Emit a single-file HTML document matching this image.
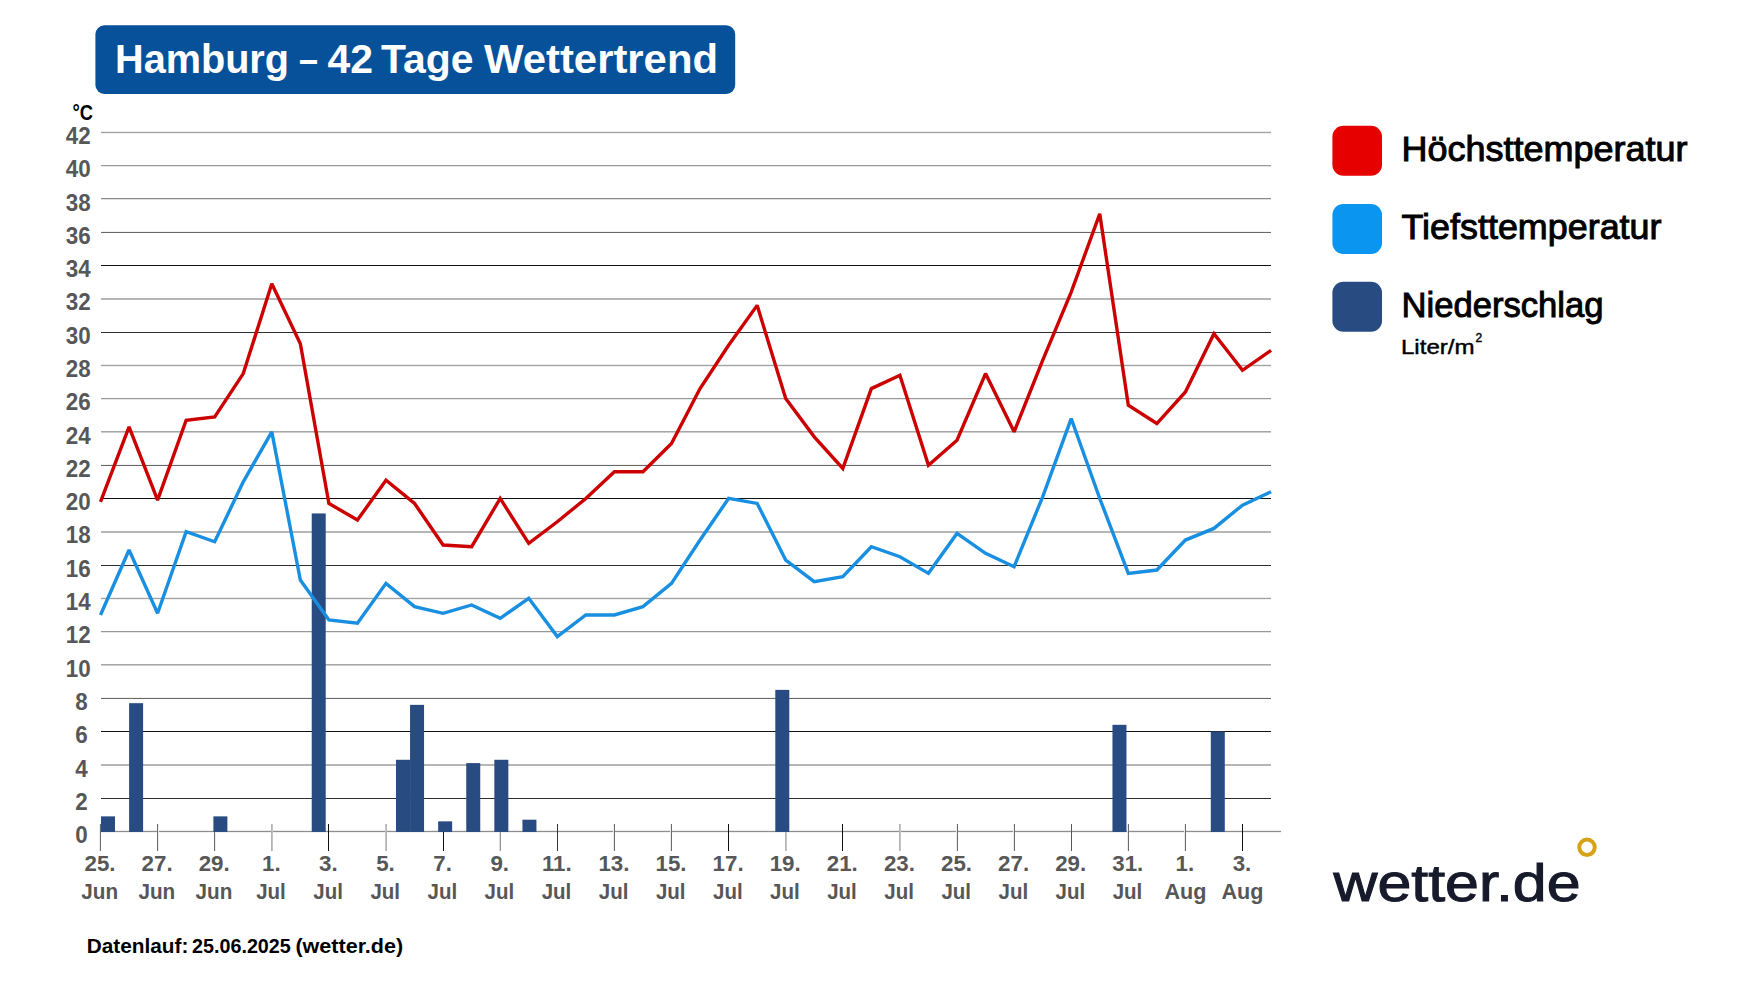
<!DOCTYPE html>
<html lang="de">
<head>
<meta charset="utf-8">
<title>Hamburg – 42 Tage Wettertrend</title>
<style>
html,body{margin:0;padding:0;background:#fff;}
body{width:1756px;height:987px;overflow:hidden;}
svg{display:block;}
.ax{font-family:"Liberation Sans",sans-serif;font-weight:bold;font-size:23.2px;fill:#575757;}
.xs{font-size:22.3px;}
.lg{font-family:"Liberation Sans",sans-serif;font-size:35px;fill:#000;stroke:#000;stroke-width:0.95px;}
</style>
</head>
<body>
<svg width="1756" height="987" viewBox="0 0 1756 987">
<rect width="1756" height="987" fill="#ffffff"/>
<rect x="95.4" y="25.3" width="639.8" height="68.6" rx="9" ry="9" fill="#07519b"/>
<text y="73.4" font-family="'Liberation Sans',sans-serif" font-weight="bold" font-size="40" fill="#ffffff"><tspan x="115" textLength="174" lengthAdjust="spacingAndGlyphs">Hamburg</tspan> <tspan x="299" textLength="19" lengthAdjust="spacingAndGlyphs">–</tspan> <tspan x="327.5" textLength="45.5" lengthAdjust="spacingAndGlyphs">42</tspan> <tspan x="381" textLength="92.5" lengthAdjust="spacingAndGlyphs">Tage</tspan> <tspan x="484" textLength="234" lengthAdjust="spacingAndGlyphs">Wettertrend</tspan></text>
<text x="72.5" y="119.7" font-family="'Liberation Sans',sans-serif" font-weight="bold" font-size="22.7" fill="#000" textLength="20.5" lengthAdjust="spacingAndGlyphs">°C</text>
<g shape-rendering="crispEdges">
<rect x="100.5" y="831" width="1180.0" height="1" fill="#8e8e8e"/>
<rect x="100.5" y="830" width="1180.0" height="1" fill="#ededed"/>
<rect x="100.5" y="832" width="1180.0" height="1" fill="#f0f0f0"/>
<rect x="100.5" y="798" width="1170.5" height="1" fill="#2e2e2e"/>
<rect x="100.5" y="764" width="1170.5" height="1" fill="#b6b6b6"/>
<rect x="100.5" y="765" width="1170.5" height="1" fill="#b6b6b6"/>
<rect x="100.5" y="731" width="1170.5" height="1" fill="#111111"/>
<rect x="100.5" y="698" width="1170.5" height="1" fill="#686868"/>
<rect x="100.5" y="697" width="1170.5" height="1" fill="#f2f2f2"/>
<rect x="100.5" y="664" width="1170.5" height="1" fill="#a6a6a6"/>
<rect x="100.5" y="665" width="1170.5" height="1" fill="#cccccc"/>
<rect x="100.5" y="631" width="1170.5" height="1" fill="#989898"/>
<rect x="100.5" y="632" width="1170.5" height="1" fill="#e6e6e6"/>
<rect x="100.5" y="598" width="1170.5" height="1" fill="#a2a2a2"/>
<rect x="100.5" y="597" width="1170.5" height="1" fill="#ededed"/>
<rect x="100.5" y="599" width="1170.5" height="1" fill="#f0f0f0"/>
<rect x="100.5" y="565" width="1170.5" height="1" fill="#2e2e2e"/>
<rect x="100.5" y="531" width="1170.5" height="1" fill="#b6b6b6"/>
<rect x="100.5" y="532" width="1170.5" height="1" fill="#b6b6b6"/>
<rect x="100.5" y="498" width="1170.5" height="1" fill="#111111"/>
<rect x="100.5" y="465" width="1170.5" height="1" fill="#686868"/>
<rect x="100.5" y="464" width="1170.5" height="1" fill="#f2f2f2"/>
<rect x="100.5" y="431" width="1170.5" height="1" fill="#a6a6a6"/>
<rect x="100.5" y="432" width="1170.5" height="1" fill="#cccccc"/>
<rect x="100.5" y="398" width="1170.5" height="1" fill="#989898"/>
<rect x="100.5" y="399" width="1170.5" height="1" fill="#e6e6e6"/>
<rect x="100.5" y="365" width="1170.5" height="1" fill="#a2a2a2"/>
<rect x="100.5" y="364" width="1170.5" height="1" fill="#ededed"/>
<rect x="100.5" y="366" width="1170.5" height="1" fill="#f0f0f0"/>
<rect x="100.5" y="332" width="1170.5" height="1" fill="#2e2e2e"/>
<rect x="100.5" y="298" width="1170.5" height="1" fill="#b6b6b6"/>
<rect x="100.5" y="299" width="1170.5" height="1" fill="#b6b6b6"/>
<rect x="100.5" y="265" width="1170.5" height="1" fill="#111111"/>
<rect x="100.5" y="232" width="1170.5" height="1" fill="#686868"/>
<rect x="100.5" y="231" width="1170.5" height="1" fill="#f2f2f2"/>
<rect x="100.5" y="198" width="1170.5" height="1" fill="#8a8a8a"/>
<rect x="100.5" y="199" width="1170.5" height="1" fill="#e0e0e0"/>
<rect x="100.5" y="165" width="1170.5" height="1" fill="#989898"/>
<rect x="100.5" y="166" width="1170.5" height="1" fill="#e6e6e6"/>
<rect x="100.5" y="132" width="1170.5" height="1" fill="#a2a2a2"/>
<rect x="100.5" y="131" width="1170.5" height="1" fill="#ededed"/>
<rect x="100.5" y="133" width="1170.5" height="1" fill="#f0f0f0"/>
</g>
<text class="ax" transform="translate(87.7,843.1) scale(0.965,1)" text-anchor="end">0</text>
<text class="ax" transform="translate(87.7,809.8) scale(0.965,1)" text-anchor="end">2</text>
<text class="ax" transform="translate(87.7,776.5) scale(0.965,1)" text-anchor="end">4</text>
<text class="ax" transform="translate(87.7,743.2) scale(0.965,1)" text-anchor="end">6</text>
<text class="ax" transform="translate(87.7,709.9) scale(0.965,1)" text-anchor="end">8</text>
<text class="ax" transform="translate(90.6,676.6) scale(0.965,1)" text-anchor="end">10</text>
<text class="ax" transform="translate(90.6,643.3) scale(0.965,1)" text-anchor="end">12</text>
<text class="ax" transform="translate(90.6,610.0) scale(0.965,1)" text-anchor="end">14</text>
<text class="ax" transform="translate(90.6,576.7) scale(0.965,1)" text-anchor="end">16</text>
<text class="ax" transform="translate(90.6,543.4) scale(0.965,1)" text-anchor="end">18</text>
<text class="ax" transform="translate(90.6,510.2) scale(0.965,1)" text-anchor="end">20</text>
<text class="ax" transform="translate(90.6,476.9) scale(0.965,1)" text-anchor="end">22</text>
<text class="ax" transform="translate(90.6,443.6) scale(0.965,1)" text-anchor="end">24</text>
<text class="ax" transform="translate(90.6,410.3) scale(0.965,1)" text-anchor="end">26</text>
<text class="ax" transform="translate(90.6,377.0) scale(0.965,1)" text-anchor="end">28</text>
<text class="ax" transform="translate(90.6,343.7) scale(0.965,1)" text-anchor="end">30</text>
<text class="ax" transform="translate(90.6,310.4) scale(0.965,1)" text-anchor="end">32</text>
<text class="ax" transform="translate(90.6,277.1) scale(0.965,1)" text-anchor="end">34</text>
<text class="ax" transform="translate(90.6,243.8) scale(0.965,1)" text-anchor="end">36</text>
<text class="ax" transform="translate(90.6,210.5) scale(0.965,1)" text-anchor="end">38</text>
<text class="ax" transform="translate(90.6,177.3) scale(0.965,1)" text-anchor="end">40</text>
<text class="ax" transform="translate(90.6,144.0) scale(0.965,1)" text-anchor="end">42</text>
<g shape-rendering="crispEdges">
<rect x="100" y="824" width="1" height="27" fill="#6c6c6c"/>
<rect x="99" y="824" width="1" height="27" fill="#ececec"/>
<rect x="157" y="824" width="1" height="27" fill="#6c6c6c"/>
<rect x="158" y="824" width="1" height="27" fill="#ececec"/>
<rect x="214" y="824" width="1" height="27" fill="#6c6c6c"/>
<rect x="215" y="824" width="1" height="27" fill="#ececec"/>
<rect x="271" y="824" width="1" height="27" fill="#b4b4b4"/>
<rect x="272" y="824" width="1" height="27" fill="#c4c4c4"/>
<rect x="328" y="824" width="1" height="27" fill="#111111"/>
<rect x="386" y="824" width="1" height="27" fill="#b4b4b4"/>
<rect x="385" y="824" width="1" height="27" fill="#c4c4c4"/>
<rect x="443" y="824" width="1" height="27" fill="#111111"/>
<rect x="500" y="824" width="1" height="27" fill="#949494"/>
<rect x="499" y="824" width="1" height="27" fill="#dcdcdc"/>
<rect x="557" y="824" width="1" height="27" fill="#363636"/>
<rect x="614" y="824" width="1" height="27" fill="#6c6c6c"/>
<rect x="613" y="824" width="1" height="27" fill="#ececec"/>
<rect x="671" y="824" width="1" height="27" fill="#6c6c6c"/>
<rect x="670" y="824" width="1" height="27" fill="#ececec"/>
<rect x="728" y="824" width="1" height="27" fill="#111111"/>
<rect x="785" y="824" width="1" height="27" fill="#b4b4b4"/>
<rect x="786" y="824" width="1" height="27" fill="#c4c4c4"/>
<rect x="842" y="824" width="1" height="27" fill="#111111"/>
<rect x="899" y="824" width="1" height="27" fill="#b4b4b4"/>
<rect x="900" y="824" width="1" height="27" fill="#c4c4c4"/>
<rect x="957" y="824" width="1" height="27" fill="#6c6c6c"/>
<rect x="956" y="824" width="1" height="27" fill="#ececec"/>
<rect x="1014" y="824" width="1" height="27" fill="#6c6c6c"/>
<rect x="1013" y="824" width="1" height="27" fill="#ececec"/>
<rect x="1071" y="824" width="1" height="27" fill="#585858"/>
<rect x="1128" y="824" width="1" height="27" fill="#6c6c6c"/>
<rect x="1127" y="824" width="1" height="27" fill="#ececec"/>
<rect x="1185" y="824" width="1" height="27" fill="#6c6c6c"/>
<rect x="1184" y="824" width="1" height="27" fill="#ececec"/>
<rect x="1242" y="824" width="1" height="27" fill="#111111"/>
</g>
<g fill="#284b82">
<rect x="101.00" y="816.37" width="14" height="15.58"/>
<rect x="129.10" y="703.18" width="14" height="128.77"/>
<rect x="213.38" y="816.37" width="14" height="15.58"/>
<rect x="311.72" y="513.43" width="14" height="318.52"/>
<rect x="396.01" y="759.78" width="14" height="72.17"/>
<rect x="410.06" y="704.85" width="14" height="127.10"/>
<rect x="438.15" y="821.36" width="14" height="10.59"/>
<rect x="466.25" y="763.11" width="14" height="68.84"/>
<rect x="494.34" y="759.78" width="14" height="72.17"/>
<rect x="522.44" y="819.70" width="14" height="12.25"/>
<rect x="775.30" y="689.87" width="14" height="142.08"/>
<rect x="1112.46" y="724.82" width="14" height="107.13"/>
<rect x="1210.79" y="731.48" width="14" height="100.47"/>
</g>
<polyline fill="none" stroke="#188fe1" stroke-width="3.4" stroke-linejoin="miter" stroke-miterlimit="2.2" points="100.50,614.97 129.05,550.05 157.60,613.30 186.15,531.74 214.70,541.73 243.25,481.81 271.80,431.87 300.35,580.01 328.90,619.96 357.45,623.29 386.00,583.34 414.55,606.64 443.10,613.30 471.65,604.98 500.20,618.29 528.75,598.32 557.30,636.60 585.85,614.97 614.40,614.97 642.95,606.64 671.50,583.34 700.05,540.06 728.60,498.45 757.15,503.44 785.70,560.04 814.25,581.68 842.80,576.68 871.35,546.72 899.90,556.71 928.45,573.35 957.00,533.40 985.55,553.38 1014.10,566.69 1042.65,496.79 1071.20,418.55 1099.75,498.45 1128.30,573.35 1156.85,570.02 1185.40,540.06 1213.95,528.41 1242.50,505.11 1271.05,491.79"/>
<polyline fill="none" stroke="#cc0000" stroke-width="3.4" stroke-linejoin="miter" stroke-miterlimit="2.2" points="100.50,501.78 129.05,426.88 157.60,500.11 186.15,420.22 214.70,416.89 243.25,373.61 271.80,283.73 300.35,343.65 328.90,503.44 357.45,520.09 386.00,480.14 414.55,503.44 443.10,545.06 471.65,546.72 500.20,498.45 528.75,543.39 557.30,521.75 585.85,498.45 614.40,471.82 642.95,471.82 671.50,443.52 700.05,388.59 728.60,345.32 757.15,305.37 785.70,398.58 814.25,436.86 842.80,468.49 871.35,388.59 899.90,375.28 928.45,465.16 957.00,440.19 985.55,373.61 1014.10,431.87 1042.65,360.30 1071.20,292.05 1099.75,213.82 1128.30,405.24 1156.85,423.55 1185.40,391.92 1213.95,333.66 1242.50,370.28 1271.05,350.31"/>
<text class="ax xs" x="100.0" y="871" text-anchor="middle">25.</text>
<text class="ax xs" x="99.7" y="899.4" text-anchor="middle" textLength="36.8" lengthAdjust="spacingAndGlyphs">Jun</text>
<text class="ax xs" x="157.1" y="871" text-anchor="middle">27.</text>
<text class="ax xs" x="156.8" y="899.4" text-anchor="middle" textLength="36.8" lengthAdjust="spacingAndGlyphs">Jun</text>
<text class="ax xs" x="214.2" y="871" text-anchor="middle">29.</text>
<text class="ax xs" x="213.9" y="899.4" text-anchor="middle" textLength="36.8" lengthAdjust="spacingAndGlyphs">Jun</text>
<text class="ax xs" x="271.3" y="871" text-anchor="middle">1.</text>
<text class="ax xs" x="271.0" y="899.4" text-anchor="middle" textLength="29.6" lengthAdjust="spacingAndGlyphs">Jul</text>
<text class="ax xs" x="328.4" y="871" text-anchor="middle">3.</text>
<text class="ax xs" x="328.1" y="899.4" text-anchor="middle" textLength="29.6" lengthAdjust="spacingAndGlyphs">Jul</text>
<text class="ax xs" x="385.5" y="871" text-anchor="middle">5.</text>
<text class="ax xs" x="385.2" y="899.4" text-anchor="middle" textLength="29.6" lengthAdjust="spacingAndGlyphs">Jul</text>
<text class="ax xs" x="442.6" y="871" text-anchor="middle">7.</text>
<text class="ax xs" x="442.3" y="899.4" text-anchor="middle" textLength="29.6" lengthAdjust="spacingAndGlyphs">Jul</text>
<text class="ax xs" x="499.7" y="871" text-anchor="middle">9.</text>
<text class="ax xs" x="499.4" y="899.4" text-anchor="middle" textLength="29.6" lengthAdjust="spacingAndGlyphs">Jul</text>
<text class="ax xs" x="556.8" y="871" text-anchor="middle">11.</text>
<text class="ax xs" x="556.5" y="899.4" text-anchor="middle" textLength="29.6" lengthAdjust="spacingAndGlyphs">Jul</text>
<text class="ax xs" x="613.9" y="871" text-anchor="middle">13.</text>
<text class="ax xs" x="613.6" y="899.4" text-anchor="middle" textLength="29.6" lengthAdjust="spacingAndGlyphs">Jul</text>
<text class="ax xs" x="671.0" y="871" text-anchor="middle">15.</text>
<text class="ax xs" x="670.7" y="899.4" text-anchor="middle" textLength="29.6" lengthAdjust="spacingAndGlyphs">Jul</text>
<text class="ax xs" x="728.1" y="871" text-anchor="middle">17.</text>
<text class="ax xs" x="727.8" y="899.4" text-anchor="middle" textLength="29.6" lengthAdjust="spacingAndGlyphs">Jul</text>
<text class="ax xs" x="785.2" y="871" text-anchor="middle">19.</text>
<text class="ax xs" x="784.9" y="899.4" text-anchor="middle" textLength="29.6" lengthAdjust="spacingAndGlyphs">Jul</text>
<text class="ax xs" x="842.3" y="871" text-anchor="middle">21.</text>
<text class="ax xs" x="842.0" y="899.4" text-anchor="middle" textLength="29.6" lengthAdjust="spacingAndGlyphs">Jul</text>
<text class="ax xs" x="899.4" y="871" text-anchor="middle">23.</text>
<text class="ax xs" x="899.1" y="899.4" text-anchor="middle" textLength="29.6" lengthAdjust="spacingAndGlyphs">Jul</text>
<text class="ax xs" x="956.5" y="871" text-anchor="middle">25.</text>
<text class="ax xs" x="956.2" y="899.4" text-anchor="middle" textLength="29.6" lengthAdjust="spacingAndGlyphs">Jul</text>
<text class="ax xs" x="1013.6" y="871" text-anchor="middle">27.</text>
<text class="ax xs" x="1013.3" y="899.4" text-anchor="middle" textLength="29.6" lengthAdjust="spacingAndGlyphs">Jul</text>
<text class="ax xs" x="1070.7" y="871" text-anchor="middle">29.</text>
<text class="ax xs" x="1070.4" y="899.4" text-anchor="middle" textLength="29.6" lengthAdjust="spacingAndGlyphs">Jul</text>
<text class="ax xs" x="1127.8" y="871" text-anchor="middle">31.</text>
<text class="ax xs" x="1127.5" y="899.4" text-anchor="middle" textLength="29.6" lengthAdjust="spacingAndGlyphs">Jul</text>
<text class="ax xs" x="1184.9" y="871" text-anchor="middle">1.</text>
<text class="ax xs" x="1185.4" y="899.4" text-anchor="middle" textLength="42" lengthAdjust="spacingAndGlyphs">Aug</text>
<text class="ax xs" x="1242.0" y="871" text-anchor="middle">3.</text>
<text class="ax xs" x="1242.5" y="899.4" text-anchor="middle" textLength="42" lengthAdjust="spacingAndGlyphs">Aug</text>
<rect x="1332.4" y="125.8" width="49.6" height="50" rx="11" ry="11" fill="#e60000"/>
<rect x="1332.4" y="204" width="49.6" height="50" rx="11" ry="11" fill="#0a96f0"/>
<rect x="1332.4" y="281.8" width="49.6" height="50" rx="11" ry="11" fill="#284b82"/>
<text class="lg" x="1401.5" y="161.4" textLength="286" lengthAdjust="spacingAndGlyphs">Höchsttemperatur</text>
<text class="lg" x="1401.5" y="239" textLength="260" lengthAdjust="spacingAndGlyphs">Tiefsttemperatur</text>
<text class="lg" x="1401.5" y="316.8" textLength="202" lengthAdjust="spacingAndGlyphs">Niederschlag</text>
<text x="1401" y="353.7" font-family="'Liberation Sans',sans-serif" font-size="21" fill="#000" stroke="#000" stroke-width="0.45"><tspan textLength="73.5" lengthAdjust="spacingAndGlyphs">Liter/m</tspan><tspan x="1475.6" y="341.8" font-size="12">2</tspan></text>
<text x="1333.5" y="901.1" font-family="'Liberation Sans',sans-serif" font-size="51" fill="#161a2b" stroke="#161a2b" stroke-width="1.0" textLength="247" lengthAdjust="spacingAndGlyphs">wetter.de</text>
<circle cx="1587" cy="847.3" r="7.75" fill="none" stroke="#d6a318" stroke-width="4.0"/>
<text y="953.4" font-family="'Liberation Sans',sans-serif" font-weight="bold" font-size="19.6" fill="#000"><tspan x="86.8" textLength="101.6" lengthAdjust="spacingAndGlyphs">Datenlauf:</tspan> <tspan x="192" textLength="98.8" lengthAdjust="spacingAndGlyphs">25.06.2025</tspan> <tspan x="295.4" textLength="107.8" lengthAdjust="spacingAndGlyphs">(wetter.de)</tspan></text>
</svg>
</body>
</html>
